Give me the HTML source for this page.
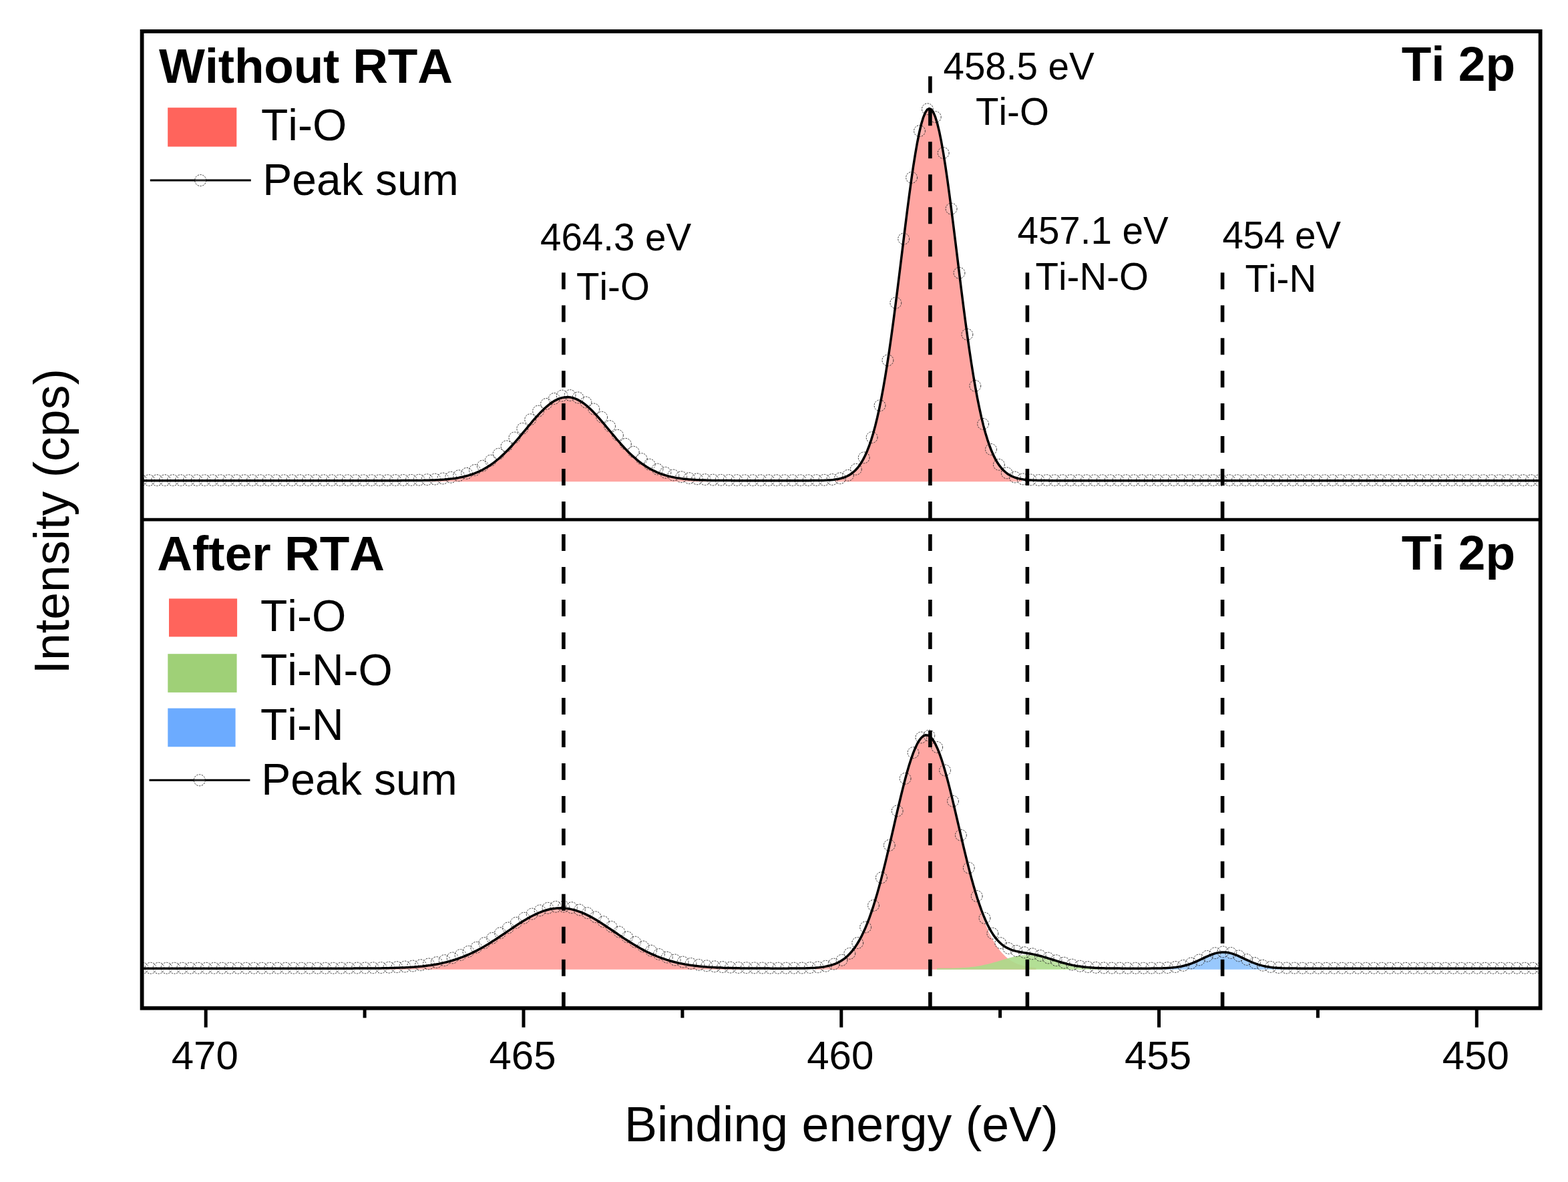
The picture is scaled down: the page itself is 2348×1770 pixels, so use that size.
<!DOCTYPE html>
<html lang="en">
<head>
<meta charset="utf-8">
<title>Ti 2p XPS spectra - Without RTA / After RTA</title>
<style>
html,body{margin:0;padding:0;background:#fff;}
body{width:2348px;height:1770px;overflow:hidden;}
svg{display:block;}
text{font-family:"Liberation Sans", Arial, Helvetica, sans-serif;fill:#000;font-kerning:none;font-variant-ligatures:none;}
.b{font-weight:700;font-size:73px;}
.ax{font-size:73.5px;}
.lg{font-size:66px;}
.an{font-size:56.5px;}
.tk{font-size:60px;text-anchor:middle;}
.pts circle{fill:#fff;fill-opacity:0.15;stroke:#222;stroke-width:0.9;stroke-dasharray:2.4 1.5;}
.dash{stroke:#000;stroke-width:5.6;fill:none;stroke-dasharray:25 23.98;}
</style>
</head>
<body>
<svg role="img" aria-label="Ti 2p XPS spectra" width="2348" height="1770" viewBox="0 0 2348 1770">
<rect x="0" y="0" width="2348" height="1770" fill="#fff"/>
<defs><clipPath id="plot"><rect x="212.6" y="46.9" width="2094" height="1462.8"/></clipPath></defs>
<g id="fills">
<path d="M636.1 721.2L636.1 719.3L639.1 719.2L642.1 719.2L645.1 719.1L648.1 719L651.1 718.9L654.1 718.7L657.1 718.6L660.1 718.4L663.1 718.2L666.1 717.9L669.1 717.7L672.1 717.4L675.1 717.1L678.1 716.7L681.1 716.3L684.1 715.8L687.1 715.3L690.1 714.7L693.1 714.1L696.1 713.4L699.1 712.6L702.1 711.7L705.1 710.8L708.1 709.8L711.1 708.7L714.1 707.5L717.1 706.2L720.1 704.7L723.1 703.2L726.1 701.6L729.1 699.8L732.1 697.9L735.1 695.9L738.1 693.7L741.1 691.5L744.1 689.1L747.1 686.6L750.1 683.9L753.1 681.2L756.1 678.3L759.1 675.3L762.1 672.2L765.1 668.9L768.1 665.6L771.1 662.2L774.1 658.8L777.1 655.3L780.1 651.7L783.1 648.1L786.1 644.5L789.1 640.8L792.1 637.2L795.1 633.6L798.1 630.1L801.1 626.7L804.1 623.3L807.1 620L810.1 616.9L813.1 613.9L816.1 611L819.1 608.4L822.1 605.9L825.1 603.7L828.1 601.6L831.1 599.8L834.1 598.3L837.1 597L840.1 596L843.1 595.3L846.1 594.9L849.1 594.7L852.1 594.8L855.1 595.2L858.1 595.9L861.1 596.9L864.1 598.1L867.1 599.6L870.1 601.4L873.1 603.4L876.1 605.6L879.1 608.1L882.1 610.7L885.1 613.5L888.1 616.5L891.1 619.6L894.1 622.9L897.1 626.2L900.1 629.7L903.1 633.2L906.1 636.8L909.1 640.4L912.1 644L915.1 647.7L918.1 651.3L921.1 654.8L924.1 658.4L927.1 661.8L930.1 665.2L933.1 668.6L936.1 671.8L939.1 674.9L942.1 677.9L945.1 680.8L948.1 683.6L951.1 686.3L954.1 688.8L957.1 691.2L960.1 693.5L963.1 695.6L966.1 697.7L969.1 699.6L972.1 701.3L975.1 703L978.1 704.6L981.1 706L984.1 707.3L987.1 708.5L990.1 709.7L993.1 710.7L996.1 711.6L999.1 712.5L1002.1 713.3L1005.1 714L1008.1 714.6L1011.1 715.2L1014.1 715.8L1017.1 716.2L1020.1 716.6L1023.1 717L1026.1 717.4L1029.1 717.7L1032.1 717.9L1035.1 718.2L1038.1 718.4L1041.1 718.5L1044.1 718.7L1047.1 718.8L1050.1 719L1053.1 719.1L1056.1 719.2L1059.1 719.2L1062.1 719.3L1062.1 721.2Z" fill="#ffa6a2"/>
<path d="M1250.9 721.2L1250.9 718L1253.9 717.5L1256.9 716.9L1259.9 716.2L1262.9 715.3L1265.9 714.2L1268.9 712.8L1271.9 711.2L1274.9 709.3L1277.9 706.9L1280.9 704.1L1283.9 700.9L1286.9 697L1289.9 692.5L1292.9 687.3L1295.9 681.3L1298.9 674.4L1301.9 666.6L1304.9 657.7L1307.9 647.7L1310.9 636.6L1313.9 624.2L1316.9 610.6L1319.9 595.6L1322.9 579.4L1325.9 561.9L1328.9 543.1L1331.9 523.1L1334.9 502L1337.9 479.9L1340.9 456.9L1343.9 433.3L1346.9 409.1L1349.9 384.7L1352.9 360.2L1355.9 336L1358.9 312.3L1361.9 289.4L1364.9 267.5L1367.9 247.1L1370.9 228.3L1373.9 211.5L1376.9 196.8L1379.9 184.5L1382.9 174.8L1385.9 167.9L1388.9 163.7L1391.9 162.5L1394.9 164.2L1397.9 168.8L1400.9 176.2L1403.9 186.3L1406.9 199L1409.9 214L1412.9 231.2L1415.9 250.3L1418.9 271L1421.9 293L1424.9 316L1427.9 339.8L1430.9 364.1L1433.9 388.6L1436.9 413L1439.9 437.1L1442.9 460.7L1445.9 483.5L1448.9 505.5L1451.9 526.4L1454.9 546.2L1457.9 564.8L1460.9 582.1L1463.9 598.1L1466.9 612.8L1469.9 626.3L1472.9 638.4L1475.9 649.4L1478.9 659.2L1481.9 667.9L1484.9 675.6L1487.9 682.3L1490.9 688.2L1493.9 693.3L1496.9 697.7L1499.9 701.4L1502.9 704.6L1505.9 707.3L1508.9 709.6L1511.9 711.5L1514.9 713.1L1517.9 714.4L1520.9 715.4L1523.9 716.3L1526.9 717L1529.9 717.6L1529.9 721.2Z" fill="#ffa6a2"/>
<path d="M565.8 1451.7L565.8 1449.9L568.8 1449.9L571.8 1449.8L574.8 1449.8L577.8 1449.7L580.8 1449.7L583.8 1449.6L586.8 1449.5L589.8 1449.5L592.8 1449.4L595.8 1449.3L598.8 1449.2L601.8 1449L604.8 1448.9L607.8 1448.8L610.8 1448.6L613.8 1448.4L616.8 1448.2L619.8 1448L622.8 1447.8L625.8 1447.5L628.8 1447.3L631.8 1447L634.8 1446.6L637.8 1446.3L640.8 1445.9L643.8 1445.5L646.8 1445L649.8 1444.6L652.8 1444.1L655.8 1443.5L658.8 1442.9L661.8 1442.3L664.8 1441.6L667.8 1440.9L670.8 1440.1L673.8 1439.3L676.8 1438.5L679.8 1437.6L682.8 1436.6L685.8 1435.6L688.8 1434.5L691.8 1433.4L694.8 1432.2L697.8 1431L700.8 1429.7L703.8 1428.4L706.8 1427L709.8 1425.5L712.8 1424L715.8 1422.4L718.8 1420.8L721.8 1419.2L724.8 1417.4L727.8 1415.7L730.8 1413.9L733.8 1412L736.8 1410.1L739.8 1408.2L742.8 1406.3L745.8 1404.3L748.8 1402.3L751.8 1400.3L754.8 1398.2L757.8 1396.2L760.8 1394.1L763.8 1392.1L766.8 1390.1L769.8 1388.1L772.8 1386.1L775.8 1384.1L778.8 1382.2L781.8 1380.3L784.8 1378.4L787.8 1376.6L790.8 1374.9L793.8 1373.3L796.8 1371.7L799.8 1370.2L802.8 1368.7L805.8 1367.4L808.8 1366.1L811.8 1365L814.8 1364L817.8 1363L820.8 1362.2L823.8 1361.5L826.8 1360.9L829.8 1360.5L832.8 1360.1L835.8 1359.9L838.8 1359.8L841.8 1359.8L844.8 1360L847.8 1360.3L850.8 1360.7L853.8 1361.2L856.8 1361.9L859.8 1362.6L862.8 1363.5L865.8 1364.5L868.8 1365.6L871.8 1366.8L874.8 1368.1L877.8 1369.5L880.8 1370.9L883.8 1372.5L886.8 1374.1L889.8 1375.8L892.8 1377.6L895.8 1379.4L898.8 1381.3L901.8 1383.2L904.8 1385.1L907.8 1387.1L910.8 1389.1L913.8 1391.2L916.8 1393.2L919.8 1395.2L922.8 1397.3L925.8 1399.3L928.8 1401.3L931.8 1403.4L934.8 1405.3L937.8 1407.3L940.8 1409.2L943.8 1411.1L946.8 1413L949.8 1414.8L952.8 1416.6L955.8 1418.4L958.8 1420.1L961.8 1421.7L964.8 1423.3L967.8 1424.8L970.8 1426.3L973.8 1427.7L976.8 1429.1L979.8 1430.4L982.8 1431.7L985.8 1432.9L988.8 1434L991.8 1435.1L994.8 1436.1L997.8 1437.1L1000.8 1438.1L1003.8 1438.9L1006.8 1439.8L1009.8 1440.6L1012.8 1441.3L1015.8 1442L1018.8 1442.6L1021.8 1443.2L1024.8 1443.8L1027.8 1444.3L1030.8 1444.8L1033.8 1445.3L1036.8 1445.7L1039.8 1446.1L1042.8 1446.5L1045.8 1446.8L1048.8 1447.1L1051.8 1447.4L1054.8 1447.7L1057.8 1447.9L1060.8 1448.1L1063.8 1448.3L1066.8 1448.5L1069.8 1448.7L1072.8 1448.8L1075.8 1449L1078.8 1449.1L1081.8 1449.2L1084.8 1449.3L1087.8 1449.4L1090.8 1449.5L1093.8 1449.6L1096.8 1449.7L1099.8 1449.7L1102.8 1449.8L1105.8 1449.8L1108.8 1449.9L1111.8 1449.9L1111.8 1451.7Z" fill="#ffa6a2"/>
<path d="M1221.4 1451.7L1221.4 1449.1L1224.4 1448.9L1227.4 1448.6L1230.4 1448.2L1233.4 1447.8L1236.4 1447.3L1239.4 1446.7L1242.4 1445.9L1245.4 1445.1L1248.4 1444.1L1251.4 1442.9L1254.4 1441.6L1257.4 1440.1L1260.4 1438.3L1263.4 1436.2L1266.4 1433.9L1269.4 1431.2L1272.4 1428.3L1275.4 1424.9L1278.4 1421.1L1281.4 1416.9L1284.4 1412.2L1287.4 1407L1290.4 1401.3L1293.4 1395L1296.4 1388.2L1299.4 1380.8L1302.4 1372.8L1305.4 1364.3L1308.4 1355.1L1311.4 1345.4L1314.4 1335.1L1317.4 1324.3L1320.4 1312.9L1323.4 1301.2L1326.4 1289L1329.4 1276.5L1332.4 1263.7L1335.4 1250.7L1338.4 1237.7L1341.4 1224.7L1344.4 1211.7L1347.4 1199L1350.4 1186.6L1353.4 1174.6L1356.4 1163.2L1359.4 1152.5L1362.4 1142.5L1365.4 1133.4L1368.4 1125.2L1371.4 1118.1L1374.4 1112.2L1377.4 1107.4L1380.4 1103.9L1383.4 1101.6L1386.4 1100.7L1389.4 1101.1L1392.4 1102.9L1395.4 1105.9L1398.4 1110.2L1401.4 1115.7L1404.4 1122.4L1407.4 1130.1L1410.4 1138.9L1413.4 1148.5L1416.4 1159L1419.4 1170.2L1422.4 1181.9L1425.4 1194.2L1428.4 1206.8L1431.4 1219.6L1434.4 1232.6L1437.4 1245.7L1440.4 1258.7L1443.4 1271.6L1446.4 1284.2L1449.4 1296.5L1452.4 1308.4L1455.4 1319.9L1458.4 1331L1461.4 1341.5L1464.4 1351.4L1467.4 1360.8L1470.4 1369.6L1473.4 1377.8L1476.4 1385.4L1479.4 1392.5L1482.4 1398.9L1485.4 1404.9L1488.4 1410.2L1491.4 1415.1L1494.4 1419.5L1497.4 1423.5L1500.4 1427L1503.4 1430.1L1506.4 1432.9L1509.4 1435.4L1512.4 1437.5L1515.4 1439.4L1518.4 1441L1521.4 1442.5L1524.4 1443.7L1527.4 1444.7L1530.4 1445.6L1533.4 1446.4L1536.4 1447L1539.4 1447.6L1542.4 1448.1L1545.4 1448.4L1548.4 1448.8L1551.4 1449L1551.4 1451.7Z" fill="#ffa6a2"/>
<path d="M1403 1451.7L1403 1450.1L1406 1450.1L1409 1450.1L1412 1450.1L1415 1450L1418 1450L1421 1449.9L1424 1449.9L1427 1449.8L1430 1449.7L1433 1449.6L1436 1449.5L1439 1449.3L1442 1449.1L1445 1448.9L1448 1448.7L1451 1448.4L1454 1448.1L1457 1447.8L1460 1447.4L1463 1446.9L1466 1446.4L1469 1445.9L1472 1445.3L1475 1444.6L1478 1443.9L1481 1443.2L1484 1442.4L1487 1441.6L1490 1440.8L1493 1439.9L1496 1439L1499 1438.1L1502 1437.2L1505 1436.3L1508 1435.4L1511 1434.5L1514 1433.7L1517 1433L1520 1432.3L1523 1431.7L1526 1431.2L1529 1430.8L1532 1430.5L1535 1430.3L1538 1430.2L1541 1430.2L1544 1430.4L1547 1430.6L1550 1430.9L1553 1431.4L1556 1431.9L1559 1432.6L1562 1433.2L1565 1434L1568 1434.8L1571 1435.7L1574 1436.6L1577 1437.5L1580 1438.4L1583 1439.3L1586 1440.2L1589 1441L1592 1441.9L1595 1442.7L1598 1443.5L1601 1444.2L1604 1444.9L1607 1445.5L1610 1446.1L1613 1446.6L1616 1447.1L1619 1447.5L1622 1447.9L1625 1448.2L1628 1448.5L1631 1448.8L1634 1449L1637 1449.2L1640 1449.4L1643 1449.5L1646 1449.6L1649 1449.7L1652 1449.8L1655 1449.9L1658 1450L1661 1450L1664 1450L1667 1450.1L1670 1450.1L1673 1450.1L1673 1451.7Z" fill="#abdb8a" fill-opacity="0.9"/>
<path d="M1726.4 1451.7L1726.4 1450.1L1729.4 1450.1L1732.4 1450.1L1735.4 1450L1738.4 1449.9L1741.4 1449.9L1744.4 1449.7L1747.4 1449.6L1750.4 1449.4L1753.4 1449.2L1756.4 1448.9L1759.4 1448.6L1762.4 1448.2L1765.4 1447.7L1768.4 1447.2L1771.4 1446.6L1774.4 1445.8L1777.4 1445L1780.4 1444.1L1783.4 1443L1786.4 1441.9L1789.4 1440.7L1792.4 1439.4L1795.4 1438L1798.4 1436.6L1801.4 1435.2L1804.4 1433.8L1807.4 1432.4L1810.4 1431.1L1813.4 1429.8L1816.4 1428.7L1819.4 1427.8L1822.4 1427L1825.4 1426.4L1828.4 1426L1831.4 1425.9L1834.4 1426L1837.4 1426.3L1840.4 1426.8L1843.4 1427.5L1846.4 1428.5L1849.4 1429.5L1852.4 1430.7L1855.4 1432L1858.4 1433.4L1861.4 1434.8L1864.4 1436.2L1867.4 1437.6L1870.4 1439L1873.4 1440.3L1876.4 1441.6L1879.4 1442.7L1882.4 1443.8L1885.4 1444.7L1888.4 1445.6L1891.4 1446.4L1894.4 1447L1897.4 1447.6L1900.4 1448.1L1903.4 1448.5L1906.4 1448.9L1909.4 1449.1L1912.4 1449.4L1915.4 1449.6L1918.4 1449.7L1921.4 1449.8L1924.4 1449.9L1927.4 1450L1930.4 1450L1933.4 1450.1L1936.4 1450.1L1936.4 1451.7Z" fill="#98c8fd"/>
</g>
<g class="pts" clip-path="url(#plot)"><circle cx="211.3" cy="719.2" r="8.4"/><circle cx="223.2" cy="719.2" r="8.4"/><circle cx="235.1" cy="719.2" r="8.4"/><circle cx="247" cy="719.2" r="8.4"/><circle cx="258.9" cy="719.2" r="8.4"/><circle cx="270.8" cy="719.2" r="8.4"/><circle cx="282.7" cy="719.2" r="8.4"/><circle cx="294.6" cy="719.2" r="8.4"/><circle cx="306.5" cy="719.2" r="8.4"/><circle cx="318.4" cy="719.2" r="8.4"/><circle cx="330.3" cy="719.2" r="8.4"/><circle cx="342.2" cy="719.2" r="8.4"/><circle cx="354.1" cy="719.2" r="8.4"/><circle cx="366" cy="719.2" r="8.4"/><circle cx="377.9" cy="719.2" r="8.4"/><circle cx="389.8" cy="719.2" r="8.4"/><circle cx="401.7" cy="719.2" r="8.4"/><circle cx="413.5" cy="719.2" r="8.4"/><circle cx="425.4" cy="719.2" r="8.4"/><circle cx="437.3" cy="719.2" r="8.4"/><circle cx="449.2" cy="719.2" r="8.4"/><circle cx="461.1" cy="719.2" r="8.4"/><circle cx="473" cy="719.2" r="8.4"/><circle cx="484.9" cy="719.2" r="8.4"/><circle cx="496.8" cy="719.2" r="8.4"/><circle cx="508.7" cy="719.2" r="8.4"/><circle cx="520.6" cy="719.2" r="8.4"/><circle cx="532.5" cy="719.2" r="8.4"/><circle cx="544.4" cy="719.2" r="8.4"/><circle cx="556.3" cy="719.2" r="8.4"/><circle cx="568.2" cy="719.2" r="8.4"/><circle cx="580.1" cy="719.2" r="8.4"/><circle cx="592" cy="719.1" r="8.4"/><circle cx="603.9" cy="719" r="8.4"/><circle cx="615.8" cy="718.9" r="8.4"/><circle cx="627.6" cy="718.7" r="8.4"/><circle cx="639.5" cy="718.2" r="8.4"/><circle cx="651.4" cy="717.6" r="8.4"/><circle cx="663.3" cy="716.5" r="8.4"/><circle cx="675.2" cy="714.8" r="8.4"/><circle cx="687.1" cy="712.3" r="8.4"/><circle cx="699" cy="708.8" r="8.4"/><circle cx="710.9" cy="704" r="8.4"/><circle cx="722.8" cy="697.6" r="8.4"/><circle cx="734.7" cy="689.6" r="8.4"/><circle cx="746.6" cy="679.7" r="8.4"/><circle cx="758.5" cy="668.2" r="8.4"/><circle cx="770.4" cy="655.4" r="8.4"/><circle cx="782.3" cy="641.8" r="8.4"/><circle cx="794.2" cy="628.2" r="8.4"/><circle cx="806.1" cy="615.6" r="8.4"/><circle cx="818" cy="604.9" r="8.4"/><circle cx="829.9" cy="596.9" r="8.4"/><circle cx="841.7" cy="592.5" r="8.4"/><circle cx="853.6" cy="592" r="8.4"/><circle cx="865.5" cy="595.4" r="8.4"/><circle cx="877.4" cy="602.4" r="8.4"/><circle cx="889.3" cy="612.5" r="8.4"/><circle cx="901.2" cy="624.7" r="8.4"/><circle cx="913.1" cy="638.1" r="8.4"/><circle cx="925" cy="651.7" r="8.4"/><circle cx="936.9" cy="664.8" r="8.4"/><circle cx="948.8" cy="676.7" r="8.4"/><circle cx="960.7" cy="687.1" r="8.4"/><circle cx="972.6" cy="695.6" r="8.4"/><circle cx="984.5" cy="702.5" r="8.4"/><circle cx="996.4" cy="707.7" r="8.4"/><circle cx="1008.3" cy="711.5" r="8.4"/><circle cx="1020.2" cy="714.2" r="8.4"/><circle cx="1032.1" cy="716.1" r="8.4"/><circle cx="1044" cy="717.3" r="8.4"/><circle cx="1055.8" cy="718.1" r="8.4"/><circle cx="1067.7" cy="718.6" r="8.4"/><circle cx="1079.6" cy="718.8" r="8.4"/><circle cx="1091.5" cy="719" r="8.4"/><circle cx="1103.4" cy="719.1" r="8.4"/><circle cx="1115.3" cy="719.2" r="8.4"/><circle cx="1127.2" cy="719.2" r="8.4"/><circle cx="1139.1" cy="719.2" r="8.4"/><circle cx="1151" cy="719.2" r="8.4"/><circle cx="1162.9" cy="719.2" r="8.4"/><circle cx="1174.8" cy="719.2" r="8.4"/><circle cx="1186.7" cy="719.2" r="8.4"/><circle cx="1198.6" cy="719.2" r="8.4"/><circle cx="1210.5" cy="719.2" r="8.4"/><circle cx="1222.4" cy="719.1" r="8.4"/><circle cx="1234.3" cy="718.8" r="8.4"/><circle cx="1246.2" cy="718" r="8.4"/><circle cx="1258" cy="716.2" r="8.4"/><circle cx="1269.9" cy="711.8" r="8.4"/><circle cx="1281.8" cy="702.7" r="8.4"/><circle cx="1293.7" cy="685.3" r="8.4"/><circle cx="1305.6" cy="655" r="8.4"/><circle cx="1317.5" cy="607.3" r="8.4"/><circle cx="1329.4" cy="539.5" r="8.4"/><circle cx="1341.3" cy="453.5" r="8.4"/><circle cx="1353.2" cy="357.6" r="8.4"/><circle cx="1365.1" cy="265.9" r="8.4"/><circle cx="1377" cy="196.1" r="8.4"/><circle cx="1388.9" cy="163.3" r="8.4"/><circle cx="1400.8" cy="175.2" r="8.4"/><circle cx="1412.7" cy="229.1" r="8.4"/><circle cx="1424.6" cy="312.6" r="8.4"/><circle cx="1436.5" cy="408.7" r="8.4"/><circle cx="1448.4" cy="500.8" r="8.4"/><circle cx="1460.3" cy="577.8" r="8.4"/><circle cx="1472.1" cy="634.9" r="8.4"/><circle cx="1484" cy="672.9" r="8.4"/><circle cx="1495.9" cy="695.8" r="8.4"/><circle cx="1507.8" cy="708.3" r="8.4"/><circle cx="1519.7" cy="714.5" r="8.4"/><circle cx="1531.6" cy="717.4" r="8.4"/><circle cx="1543.5" cy="718.5" r="8.4"/><circle cx="1555.4" cy="719" r="8.4"/><circle cx="1567.3" cy="719.1" r="8.4"/><circle cx="1579.2" cy="719.2" r="8.4"/><circle cx="1591.1" cy="719.2" r="8.4"/><circle cx="1603" cy="719.2" r="8.4"/><circle cx="1614.9" cy="719.2" r="8.4"/><circle cx="1626.8" cy="719.2" r="8.4"/><circle cx="1638.7" cy="719.2" r="8.4"/><circle cx="1650.6" cy="719.2" r="8.4"/><circle cx="1662.5" cy="719.2" r="8.4"/><circle cx="1674.4" cy="719.2" r="8.4"/><circle cx="1686.2" cy="719.2" r="8.4"/><circle cx="1698.1" cy="719.2" r="8.4"/><circle cx="1710" cy="719.2" r="8.4"/><circle cx="1721.9" cy="719.2" r="8.4"/><circle cx="1733.8" cy="719.2" r="8.4"/><circle cx="1745.7" cy="719.2" r="8.4"/><circle cx="1757.6" cy="719.2" r="8.4"/><circle cx="1769.5" cy="719.2" r="8.4"/><circle cx="1781.4" cy="719.2" r="8.4"/><circle cx="1793.3" cy="719.2" r="8.4"/><circle cx="1805.2" cy="719.2" r="8.4"/><circle cx="1817.1" cy="719.2" r="8.4"/><circle cx="1829" cy="719.2" r="8.4"/><circle cx="1840.9" cy="719.2" r="8.4"/><circle cx="1852.8" cy="719.2" r="8.4"/><circle cx="1864.7" cy="719.2" r="8.4"/><circle cx="1876.6" cy="719.2" r="8.4"/><circle cx="1888.5" cy="719.2" r="8.4"/><circle cx="1900.3" cy="719.2" r="8.4"/><circle cx="1912.2" cy="719.2" r="8.4"/><circle cx="1924.1" cy="719.2" r="8.4"/><circle cx="1936" cy="719.2" r="8.4"/><circle cx="1947.9" cy="719.2" r="8.4"/><circle cx="1959.8" cy="719.2" r="8.4"/><circle cx="1971.7" cy="719.2" r="8.4"/><circle cx="1983.6" cy="719.2" r="8.4"/><circle cx="1995.5" cy="719.2" r="8.4"/><circle cx="2007.4" cy="719.2" r="8.4"/><circle cx="2019.3" cy="719.2" r="8.4"/><circle cx="2031.2" cy="719.2" r="8.4"/><circle cx="2043.1" cy="719.2" r="8.4"/><circle cx="2055" cy="719.2" r="8.4"/><circle cx="2066.9" cy="719.2" r="8.4"/><circle cx="2078.8" cy="719.2" r="8.4"/><circle cx="2090.7" cy="719.2" r="8.4"/><circle cx="2102.6" cy="719.2" r="8.4"/><circle cx="2114.4" cy="719.2" r="8.4"/><circle cx="2126.3" cy="719.2" r="8.4"/><circle cx="2138.2" cy="719.2" r="8.4"/><circle cx="2150.1" cy="719.2" r="8.4"/><circle cx="2162" cy="719.2" r="8.4"/><circle cx="2173.9" cy="719.2" r="8.4"/><circle cx="2185.8" cy="719.2" r="8.4"/><circle cx="2197.7" cy="719.2" r="8.4"/><circle cx="2209.6" cy="719.2" r="8.4"/><circle cx="2221.5" cy="719.2" r="8.4"/><circle cx="2233.4" cy="719.2" r="8.4"/><circle cx="2245.3" cy="719.2" r="8.4"/><circle cx="2257.2" cy="719.2" r="8.4"/><circle cx="2269.1" cy="719.2" r="8.4"/><circle cx="2281" cy="719.2" r="8.4"/><circle cx="2292.9" cy="719.2" r="8.4"/><circle cx="2304.8" cy="719.2" r="8.4"/></g>
<g class="pts" clip-path="url(#plot)"><circle cx="213.7" cy="1449.7" r="8.4"/><circle cx="225.6" cy="1449.7" r="8.4"/><circle cx="237.5" cy="1449.7" r="8.4"/><circle cx="249.4" cy="1449.7" r="8.4"/><circle cx="261.3" cy="1449.7" r="8.4"/><circle cx="273.2" cy="1449.7" r="8.4"/><circle cx="285.1" cy="1449.7" r="8.4"/><circle cx="297" cy="1449.7" r="8.4"/><circle cx="308.9" cy="1449.7" r="8.4"/><circle cx="320.8" cy="1449.7" r="8.4"/><circle cx="332.7" cy="1449.7" r="8.4"/><circle cx="344.6" cy="1449.7" r="8.4"/><circle cx="356.5" cy="1449.7" r="8.4"/><circle cx="368.4" cy="1449.7" r="8.4"/><circle cx="380.3" cy="1449.7" r="8.4"/><circle cx="392.2" cy="1449.7" r="8.4"/><circle cx="404.1" cy="1449.7" r="8.4"/><circle cx="415.9" cy="1449.7" r="8.4"/><circle cx="427.8" cy="1449.7" r="8.4"/><circle cx="439.7" cy="1449.7" r="8.4"/><circle cx="451.6" cy="1449.7" r="8.4"/><circle cx="463.5" cy="1449.7" r="8.4"/><circle cx="475.4" cy="1449.7" r="8.4"/><circle cx="487.3" cy="1449.7" r="8.4"/><circle cx="499.2" cy="1449.7" r="8.4"/><circle cx="511.1" cy="1449.6" r="8.4"/><circle cx="523" cy="1449.6" r="8.4"/><circle cx="534.9" cy="1449.5" r="8.4"/><circle cx="546.8" cy="1449.4" r="8.4"/><circle cx="558.7" cy="1449.3" r="8.4"/><circle cx="570.6" cy="1449.1" r="8.4"/><circle cx="582.5" cy="1448.7" r="8.4"/><circle cx="594.4" cy="1448.2" r="8.4"/><circle cx="606.3" cy="1447.5" r="8.4"/><circle cx="618.2" cy="1446.5" r="8.4"/><circle cx="630" cy="1445.2" r="8.4"/><circle cx="641.9" cy="1443.4" r="8.4"/><circle cx="653.8" cy="1441.1" r="8.4"/><circle cx="665.7" cy="1438.1" r="8.4"/><circle cx="677.6" cy="1434.4" r="8.4"/><circle cx="689.5" cy="1430" r="8.4"/><circle cx="701.4" cy="1424.8" r="8.4"/><circle cx="713.3" cy="1418.8" r="8.4"/><circle cx="725.2" cy="1412.1" r="8.4"/><circle cx="737.1" cy="1404.8" r="8.4"/><circle cx="749" cy="1397.2" r="8.4"/><circle cx="760.9" cy="1389.4" r="8.4"/><circle cx="772.8" cy="1381.8" r="8.4"/><circle cx="784.7" cy="1374.7" r="8.4"/><circle cx="796.6" cy="1368.5" r="8.4"/><circle cx="808.5" cy="1363.4" r="8.4"/><circle cx="820.4" cy="1359.8" r="8.4"/><circle cx="832.3" cy="1357.8" r="8.4"/><circle cx="844.1" cy="1357.6" r="8.4"/><circle cx="856" cy="1359.2" r="8.4"/><circle cx="867.9" cy="1362.5" r="8.4"/><circle cx="879.8" cy="1367.2" r="8.4"/><circle cx="891.7" cy="1373.2" r="8.4"/><circle cx="903.6" cy="1380.2" r="8.4"/><circle cx="915.5" cy="1387.7" r="8.4"/><circle cx="927.4" cy="1395.5" r="8.4"/><circle cx="939.3" cy="1403.2" r="8.4"/><circle cx="951.2" cy="1410.6" r="8.4"/><circle cx="963.1" cy="1417.4" r="8.4"/><circle cx="975" cy="1423.6" r="8.4"/><circle cx="986.9" cy="1429" r="8.4"/><circle cx="998.8" cy="1433.5" r="8.4"/><circle cx="1010.7" cy="1437.4" r="8.4"/><circle cx="1022.6" cy="1440.5" r="8.4"/><circle cx="1034.5" cy="1442.9" r="8.4"/><circle cx="1046.4" cy="1444.8" r="8.4"/><circle cx="1058.2" cy="1446.3" r="8.4"/><circle cx="1070.1" cy="1447.3" r="8.4"/><circle cx="1082" cy="1448.1" r="8.4"/><circle cx="1093.9" cy="1448.6" r="8.4"/><circle cx="1105.8" cy="1449" r="8.4"/><circle cx="1117.7" cy="1449.2" r="8.4"/><circle cx="1129.6" cy="1449.4" r="8.4"/><circle cx="1141.5" cy="1449.5" r="8.4"/><circle cx="1153.4" cy="1449.6" r="8.4"/><circle cx="1165.3" cy="1449.6" r="8.4"/><circle cx="1177.2" cy="1449.6" r="8.4"/><circle cx="1189.1" cy="1449.6" r="8.4"/><circle cx="1201" cy="1449.5" r="8.4"/><circle cx="1212.9" cy="1449.1" r="8.4"/><circle cx="1224.8" cy="1448.3" r="8.4"/><circle cx="1236.7" cy="1446.7" r="8.4"/><circle cx="1248.6" cy="1443.6" r="8.4"/><circle cx="1260.5" cy="1437.8" r="8.4"/><circle cx="1272.3" cy="1427.8" r="8.4"/><circle cx="1284.2" cy="1412" r="8.4"/><circle cx="1296.1" cy="1388.4" r="8.4"/><circle cx="1308" cy="1355.9" r="8.4"/><circle cx="1319.9" cy="1314.3" r="8.4"/><circle cx="1331.8" cy="1265.8" r="8.4"/><circle cx="1343.7" cy="1214.3" r="8.4"/><circle cx="1355.6" cy="1165.8" r="8.4"/><circle cx="1367.5" cy="1127.1" r="8.4"/><circle cx="1379.4" cy="1104.4" r="8.4"/><circle cx="1391.3" cy="1101.5" r="8.4"/><circle cx="1403.2" cy="1118.9" r="8.4"/><circle cx="1415.1" cy="1153.5" r="8.4"/><circle cx="1427" cy="1199.7" r="8.4"/><circle cx="1438.9" cy="1250.6" r="8.4"/><circle cx="1450.8" cy="1299.6" r="8.4"/><circle cx="1462.7" cy="1341.9" r="8.4"/><circle cx="1474.5" cy="1374.8" r="8.4"/><circle cx="1486.4" cy="1397.8" r="8.4"/><circle cx="1498.3" cy="1412.2" r="8.4"/><circle cx="1510.2" cy="1420" r="8.4"/><circle cx="1522.1" cy="1424" r="8.4"/><circle cx="1534" cy="1426.2" r="8.4"/><circle cx="1545.9" cy="1428.3" r="8.4"/><circle cx="1557.8" cy="1431" r="8.4"/><circle cx="1569.7" cy="1434.5" r="8.4"/><circle cx="1581.6" cy="1438.2" r="8.4"/><circle cx="1593.5" cy="1441.7" r="8.4"/><circle cx="1605.4" cy="1444.6" r="8.4"/><circle cx="1617.3" cy="1446.7" r="8.4"/><circle cx="1629.2" cy="1448.1" r="8.4"/><circle cx="1641.1" cy="1448.9" r="8.4"/><circle cx="1653" cy="1449.4" r="8.4"/><circle cx="1664.9" cy="1449.6" r="8.4"/><circle cx="1676.8" cy="1449.6" r="8.4"/><circle cx="1688.6" cy="1449.7" r="8.4"/><circle cx="1700.5" cy="1449.7" r="8.4"/><circle cx="1712.4" cy="1449.7" r="8.4"/><circle cx="1724.3" cy="1449.6" r="8.4"/><circle cx="1736.2" cy="1449.5" r="8.4"/><circle cx="1748.1" cy="1449.1" r="8.4"/><circle cx="1760" cy="1448" r="8.4"/><circle cx="1771.9" cy="1445.9" r="8.4"/><circle cx="1783.8" cy="1442.4" r="8.4"/><circle cx="1795.7" cy="1437.4" r="8.4"/><circle cx="1807.6" cy="1431.8" r="8.4"/><circle cx="1819.5" cy="1427.2" r="8.4"/><circle cx="1831.4" cy="1425.4" r="8.4"/><circle cx="1843.3" cy="1427" r="8.4"/><circle cx="1855.2" cy="1431.4" r="8.4"/><circle cx="1867.1" cy="1437" r="8.4"/><circle cx="1879" cy="1442.1" r="8.4"/><circle cx="1890.9" cy="1445.7" r="8.4"/><circle cx="1902.7" cy="1447.9" r="8.4"/><circle cx="1914.6" cy="1449" r="8.4"/><circle cx="1926.5" cy="1449.5" r="8.4"/><circle cx="1938.4" cy="1449.6" r="8.4"/><circle cx="1950.3" cy="1449.7" r="8.4"/><circle cx="1962.2" cy="1449.7" r="8.4"/><circle cx="1974.1" cy="1449.7" r="8.4"/><circle cx="1986" cy="1449.7" r="8.4"/><circle cx="1997.9" cy="1449.7" r="8.4"/><circle cx="2009.8" cy="1449.7" r="8.4"/><circle cx="2021.7" cy="1449.7" r="8.4"/><circle cx="2033.6" cy="1449.7" r="8.4"/><circle cx="2045.5" cy="1449.7" r="8.4"/><circle cx="2057.4" cy="1449.7" r="8.4"/><circle cx="2069.3" cy="1449.7" r="8.4"/><circle cx="2081.2" cy="1449.7" r="8.4"/><circle cx="2093.1" cy="1449.7" r="8.4"/><circle cx="2105" cy="1449.7" r="8.4"/><circle cx="2116.8" cy="1449.7" r="8.4"/><circle cx="2128.7" cy="1449.7" r="8.4"/><circle cx="2140.6" cy="1449.7" r="8.4"/><circle cx="2152.5" cy="1449.7" r="8.4"/><circle cx="2164.4" cy="1449.7" r="8.4"/><circle cx="2176.3" cy="1449.7" r="8.4"/><circle cx="2188.2" cy="1449.7" r="8.4"/><circle cx="2200.1" cy="1449.7" r="8.4"/><circle cx="2212" cy="1449.7" r="8.4"/><circle cx="2223.9" cy="1449.7" r="8.4"/><circle cx="2235.8" cy="1449.7" r="8.4"/><circle cx="2247.7" cy="1449.7" r="8.4"/><circle cx="2259.6" cy="1449.7" r="8.4"/><circle cx="2271.5" cy="1449.7" r="8.4"/><circle cx="2283.4" cy="1449.7" r="8.4"/><circle cx="2295.3" cy="1449.7" r="8.4"/><circle cx="2307.2" cy="1449.7" r="8.4"/></g>
<path d="M212.6 719.7L215.6 719.7L218.6 719.7L221.6 719.7L224.6 719.7L227.6 719.7L230.6 719.7L233.6 719.7L236.6 719.7L239.6 719.7L242.6 719.7L245.6 719.7L248.6 719.7L251.6 719.7L254.6 719.7L257.6 719.7L260.6 719.7L263.6 719.7L266.6 719.7L269.6 719.7L272.6 719.7L275.6 719.7L278.6 719.7L281.6 719.7L284.6 719.7L287.6 719.7L290.6 719.7L293.6 719.7L296.6 719.7L299.6 719.7L302.6 719.7L305.6 719.7L308.6 719.7L311.6 719.7L314.6 719.7L317.6 719.7L320.6 719.7L323.6 719.7L326.6 719.7L329.6 719.7L332.6 719.7L335.6 719.7L338.6 719.7L341.6 719.7L344.6 719.7L347.6 719.7L350.6 719.7L353.6 719.7L356.6 719.7L359.6 719.7L362.6 719.7L365.6 719.7L368.6 719.7L371.6 719.7L374.6 719.7L377.6 719.7L380.6 719.7L383.6 719.7L386.6 719.7L389.6 719.7L392.6 719.7L395.6 719.7L398.6 719.7L401.6 719.7L404.6 719.7L407.6 719.7L410.6 719.7L413.6 719.7L416.6 719.7L419.6 719.7L422.6 719.7L425.6 719.7L428.6 719.7L431.6 719.7L434.6 719.7L437.6 719.7L440.6 719.7L443.6 719.7L446.6 719.7L449.6 719.7L452.6 719.7L455.6 719.7L458.6 719.7L461.6 719.7L464.6 719.7L467.6 719.7L470.6 719.7L473.6 719.7L476.6 719.7L479.6 719.7L482.6 719.7L485.6 719.7L488.6 719.7L491.6 719.7L494.6 719.7L497.6 719.7L500.6 719.7L503.6 719.7L506.6 719.7L509.6 719.7L512.6 719.7L515.6 719.7L518.6 719.7L521.6 719.7L524.6 719.7L527.6 719.7L530.6 719.7L533.6 719.7L536.6 719.7L539.6 719.7L542.6 719.7L545.6 719.7L548.6 719.7L551.6 719.7L554.6 719.7L557.6 719.7L560.6 719.7L563.6 719.7L566.6 719.7L569.6 719.7L572.6 719.7L575.6 719.7L578.6 719.7L581.6 719.7L584.6 719.7L587.6 719.7L590.6 719.7L593.6 719.7L596.6 719.7L599.6 719.7L602.6 719.6L605.6 719.6L608.6 719.6L611.6 719.6L614.6 719.6L617.6 719.6L620.6 719.5L623.6 719.5L626.6 719.5L629.6 719.4L632.6 719.4L635.6 719.3L638.6 719.3L641.6 719.2L644.6 719.1L647.6 719L650.6 718.9L653.6 718.7L656.6 718.6L659.6 718.4L662.6 718.2L665.6 718L668.6 717.7L671.6 717.4L674.6 717.1L677.6 716.8L680.6 716.4L683.6 715.9L686.6 715.4L689.6 714.8L692.6 714.2L695.6 713.5L698.6 712.7L701.6 711.9L704.6 711L707.6 710L710.6 708.9L713.6 707.7L716.6 706.4L719.6 705L722.6 703.5L725.6 701.8L728.6 700.1L731.6 698.2L734.6 696.2L737.6 694.1L740.6 691.9L743.6 689.5L746.6 687L749.6 684.4L752.6 681.6L755.6 678.8L758.6 675.8L761.6 672.7L764.6 669.5L767.6 666.2L770.6 662.8L773.6 659.4L776.6 655.9L779.6 652.3L782.6 648.7L785.6 645.1L788.6 641.5L791.6 637.9L794.6 634.3L797.6 630.7L800.6 627.2L803.6 623.9L806.6 620.6L809.6 617.4L812.6 614.4L815.6 611.5L818.6 608.8L821.6 606.3L824.6 604L827.6 602L830.6 600.1L833.6 598.6L836.6 597.2L839.6 596.2L842.6 595.4L845.6 594.9L848.6 594.7L851.6 594.8L854.6 595.1L857.6 595.8L860.6 596.7L863.6 597.9L866.6 599.4L869.6 601.1L872.6 603L875.6 605.2L878.6 607.6L881.6 610.2L884.6 613L887.6 616L890.6 619.1L893.6 622.3L896.6 625.7L899.6 629.1L902.6 632.6L905.6 636.2L908.6 639.8L911.6 643.4L914.6 647L917.6 650.6L920.6 654.2L923.6 657.8L926.6 661.2L929.6 664.7L932.6 668L935.6 671.2L938.6 674.4L941.6 677.4L944.6 680.3L947.6 683.1L950.6 685.8L953.6 688.4L956.6 690.8L959.6 693.1L962.6 695.3L965.6 697.3L968.6 699.2L971.6 701L974.6 702.7L977.6 704.3L980.6 705.7L983.6 707.1L986.6 708.3L989.6 709.5L992.6 710.5L995.6 711.5L998.6 712.4L1001.6 713.2L1004.6 713.9L1007.6 714.5L1010.6 715.1L1013.6 715.7L1016.6 716.1L1019.6 716.6L1022.6 717L1025.6 717.3L1028.6 717.6L1031.6 717.9L1034.6 718.1L1037.6 718.3L1040.6 718.5L1043.6 718.7L1046.6 718.8L1049.6 718.9L1052.6 719L1055.6 719.1L1058.6 719.2L1061.6 719.3L1064.6 719.4L1067.6 719.4L1070.6 719.5L1073.6 719.5L1076.6 719.5L1079.6 719.6L1082.6 719.6L1085.6 719.6L1088.6 719.6L1091.6 719.6L1094.6 719.6L1097.6 719.7L1100.6 719.7L1103.6 719.7L1106.6 719.7L1109.6 719.7L1112.6 719.7L1115.6 719.7L1118.6 719.7L1121.6 719.7L1124.6 719.7L1127.6 719.7L1130.6 719.7L1133.6 719.7L1136.6 719.7L1139.6 719.7L1142.6 719.7L1145.6 719.7L1148.6 719.7L1151.6 719.7L1154.6 719.7L1157.6 719.7L1160.6 719.7L1163.6 719.7L1166.6 719.7L1169.6 719.7L1172.6 719.7L1175.6 719.7L1178.6 719.7L1181.6 719.7L1184.6 719.7L1187.6 719.7L1190.6 719.7L1193.6 719.7L1196.6 719.7L1199.6 719.7L1202.6 719.7L1205.6 719.7L1208.6 719.7L1211.6 719.7L1214.6 719.6L1217.6 719.6L1220.6 719.6L1223.6 719.6L1226.6 719.5L1229.6 719.4L1232.6 719.4L1235.6 719.2L1238.6 719.1L1241.6 718.9L1244.6 718.7L1247.6 718.4L1250.6 718L1253.6 717.6L1256.6 717L1259.6 716.3L1262.6 715.4L1265.6 714.3L1268.6 713L1271.6 711.4L1274.6 709.5L1277.6 707.2L1280.6 704.5L1283.6 701.3L1286.6 697.5L1289.6 693.1L1292.6 687.9L1295.6 682L1298.6 675.2L1301.6 667.5L1304.6 658.8L1307.6 648.9L1310.6 637.9L1313.6 625.7L1316.6 612.2L1319.6 597.4L1322.6 581.3L1325.6 563.9L1328.6 545.3L1331.6 525.4L1334.6 504.5L1337.6 482.5L1340.6 459.6L1343.6 436L1346.6 411.9L1349.6 387.5L1352.6 363L1355.6 338.7L1358.6 314.9L1361.6 291.9L1364.6 270L1367.6 249.3L1370.6 230.4L1373.6 213.3L1376.6 198.4L1379.6 185.8L1382.6 175.8L1385.6 168.5L1388.6 164.1L1391.6 162.5L1394.6 163.9L1397.6 168.1L1400.6 175.2L1403.6 185L1406.6 197.4L1409.6 212.2L1412.6 229.2L1415.6 248L1418.6 268.5L1421.6 290.4L1424.6 313.4L1427.6 337.1L1430.6 361.4L1433.6 385.8L1436.6 410.2L1439.6 434.4L1442.6 458L1445.6 481L1448.6 503L1451.6 524.1L1454.6 544L1457.6 562.7L1460.6 580.2L1463.6 596.4L1466.6 611.2L1469.6 624.8L1472.6 637.1L1475.6 648.2L1478.6 658.1L1481.6 667L1484.6 674.8L1487.6 681.6L1490.6 687.6L1493.6 692.8L1496.6 697.2L1499.6 701L1502.6 704.3L1505.6 707L1508.6 709.4L1511.6 711.3L1514.6 712.9L1517.6 714.2L1520.6 715.3L1523.6 716.2L1526.6 716.9L1529.6 717.5L1532.6 718L1535.6 718.4L1538.6 718.7L1541.6 718.9L1544.6 719.1L1547.6 719.2L1550.6 719.3L1553.6 719.4L1556.6 719.5L1559.6 719.6L1562.6 719.6L1565.6 719.6L1568.6 719.6L1571.6 719.7L1574.6 719.7L1577.6 719.7L1580.6 719.7L1583.6 719.7L1586.6 719.7L1589.6 719.7L1592.6 719.7L1595.6 719.7L1598.6 719.7L1601.6 719.7L1604.6 719.7L1607.6 719.7L1610.6 719.7L1613.6 719.7L1616.6 719.7L1619.6 719.7L1622.6 719.7L1625.6 719.7L1628.6 719.7L1631.6 719.7L1634.6 719.7L1637.6 719.7L1640.6 719.7L1643.6 719.7L1646.6 719.7L1649.6 719.7L1652.6 719.7L1655.6 719.7L1658.6 719.7L1661.6 719.7L1664.6 719.7L1667.6 719.7L1670.6 719.7L1673.6 719.7L1676.6 719.7L1679.6 719.7L1682.6 719.7L1685.6 719.7L1688.6 719.7L1691.6 719.7L1694.6 719.7L1697.6 719.7L1700.6 719.7L1703.6 719.7L1706.6 719.7L1709.6 719.7L1712.6 719.7L1715.6 719.7L1718.6 719.7L1721.6 719.7L1724.6 719.7L1727.6 719.7L1730.6 719.7L1733.6 719.7L1736.6 719.7L1739.6 719.7L1742.6 719.7L1745.6 719.7L1748.6 719.7L1751.6 719.7L1754.6 719.7L1757.6 719.7L1760.6 719.7L1763.6 719.7L1766.6 719.7L1769.6 719.7L1772.6 719.7L1775.6 719.7L1778.6 719.7L1781.6 719.7L1784.6 719.7L1787.6 719.7L1790.6 719.7L1793.6 719.7L1796.6 719.7L1799.6 719.7L1802.6 719.7L1805.6 719.7L1808.6 719.7L1811.6 719.7L1814.6 719.7L1817.6 719.7L1820.6 719.7L1823.6 719.7L1826.6 719.7L1829.6 719.7L1832.6 719.7L1835.6 719.7L1838.6 719.7L1841.6 719.7L1844.6 719.7L1847.6 719.7L1850.6 719.7L1853.6 719.7L1856.6 719.7L1859.6 719.7L1862.6 719.7L1865.6 719.7L1868.6 719.7L1871.6 719.7L1874.6 719.7L1877.6 719.7L1880.6 719.7L1883.6 719.7L1886.6 719.7L1889.6 719.7L1892.6 719.7L1895.6 719.7L1898.6 719.7L1901.6 719.7L1904.6 719.7L1907.6 719.7L1910.6 719.7L1913.6 719.7L1916.6 719.7L1919.6 719.7L1922.6 719.7L1925.6 719.7L1928.6 719.7L1931.6 719.7L1934.6 719.7L1937.6 719.7L1940.6 719.7L1943.6 719.7L1946.6 719.7L1949.6 719.7L1952.6 719.7L1955.6 719.7L1958.6 719.7L1961.6 719.7L1964.6 719.7L1967.6 719.7L1970.6 719.7L1973.6 719.7L1976.6 719.7L1979.6 719.7L1982.6 719.7L1985.6 719.7L1988.6 719.7L1991.6 719.7L1994.6 719.7L1997.6 719.7L2000.6 719.7L2003.6 719.7L2006.6 719.7L2009.6 719.7L2012.6 719.7L2015.6 719.7L2018.6 719.7L2021.6 719.7L2024.6 719.7L2027.6 719.7L2030.6 719.7L2033.6 719.7L2036.6 719.7L2039.6 719.7L2042.6 719.7L2045.6 719.7L2048.6 719.7L2051.6 719.7L2054.6 719.7L2057.6 719.7L2060.6 719.7L2063.6 719.7L2066.6 719.7L2069.6 719.7L2072.6 719.7L2075.6 719.7L2078.6 719.7L2081.6 719.7L2084.6 719.7L2087.6 719.7L2090.6 719.7L2093.6 719.7L2096.6 719.7L2099.6 719.7L2102.6 719.7L2105.6 719.7L2108.6 719.7L2111.6 719.7L2114.6 719.7L2117.6 719.7L2120.6 719.7L2123.6 719.7L2126.6 719.7L2129.6 719.7L2132.6 719.7L2135.6 719.7L2138.6 719.7L2141.6 719.7L2144.6 719.7L2147.6 719.7L2150.6 719.7L2153.6 719.7L2156.6 719.7L2159.6 719.7L2162.6 719.7L2165.6 719.7L2168.6 719.7L2171.6 719.7L2174.6 719.7L2177.6 719.7L2180.6 719.7L2183.6 719.7L2186.6 719.7L2189.6 719.7L2192.6 719.7L2195.6 719.7L2198.6 719.7L2201.6 719.7L2204.6 719.7L2207.6 719.7L2210.6 719.7L2213.6 719.7L2216.6 719.7L2219.6 719.7L2222.6 719.7L2225.6 719.7L2228.6 719.7L2231.6 719.7L2234.6 719.7L2237.6 719.7L2240.6 719.7L2243.6 719.7L2246.6 719.7L2249.6 719.7L2252.6 719.7L2255.6 719.7L2258.6 719.7L2261.6 719.7L2264.6 719.7L2267.6 719.7L2270.6 719.7L2273.6 719.7L2276.6 719.7L2279.6 719.7L2282.6 719.7L2285.6 719.7L2288.6 719.7L2291.6 719.7L2294.6 719.7L2297.6 719.7L2300.6 719.7L2303.6 719.7L2306.6 719.7L2306.6 719.7" fill="none" stroke="#000" stroke-width="3.5" stroke-linejoin="round"/>
<path d="M212.6 1450.2L215.6 1450.2L218.6 1450.2L221.6 1450.2L224.6 1450.2L227.6 1450.2L230.6 1450.2L233.6 1450.2L236.6 1450.2L239.6 1450.2L242.6 1450.2L245.6 1450.2L248.6 1450.2L251.6 1450.2L254.6 1450.2L257.6 1450.2L260.6 1450.2L263.6 1450.2L266.6 1450.2L269.6 1450.2L272.6 1450.2L275.6 1450.2L278.6 1450.2L281.6 1450.2L284.6 1450.2L287.6 1450.2L290.6 1450.2L293.6 1450.2L296.6 1450.2L299.6 1450.2L302.6 1450.2L305.6 1450.2L308.6 1450.2L311.6 1450.2L314.6 1450.2L317.6 1450.2L320.6 1450.2L323.6 1450.2L326.6 1450.2L329.6 1450.2L332.6 1450.2L335.6 1450.2L338.6 1450.2L341.6 1450.2L344.6 1450.2L347.6 1450.2L350.6 1450.2L353.6 1450.2L356.6 1450.2L359.6 1450.2L362.6 1450.2L365.6 1450.2L368.6 1450.2L371.6 1450.2L374.6 1450.2L377.6 1450.2L380.6 1450.2L383.6 1450.2L386.6 1450.2L389.6 1450.2L392.6 1450.2L395.6 1450.2L398.6 1450.2L401.6 1450.2L404.6 1450.2L407.6 1450.2L410.6 1450.2L413.6 1450.2L416.6 1450.2L419.6 1450.2L422.6 1450.2L425.6 1450.2L428.6 1450.2L431.6 1450.2L434.6 1450.2L437.6 1450.2L440.6 1450.2L443.6 1450.2L446.6 1450.2L449.6 1450.2L452.6 1450.2L455.6 1450.2L458.6 1450.2L461.6 1450.2L464.6 1450.2L467.6 1450.2L470.6 1450.2L473.6 1450.2L476.6 1450.2L479.6 1450.2L482.6 1450.2L485.6 1450.2L488.6 1450.2L491.6 1450.2L494.6 1450.2L497.6 1450.2L500.6 1450.2L503.6 1450.2L506.6 1450.2L509.6 1450.2L512.6 1450.2L515.6 1450.2L518.6 1450.2L521.6 1450.2L524.6 1450.2L527.6 1450.2L530.6 1450.1L533.6 1450.1L536.6 1450.1L539.6 1450.1L542.6 1450.1L545.6 1450.1L548.6 1450.1L551.6 1450L554.6 1450L557.6 1450L560.6 1450L563.6 1449.9L566.6 1449.9L569.6 1449.9L572.6 1449.8L575.6 1449.8L578.6 1449.7L581.6 1449.7L584.6 1449.6L587.6 1449.5L590.6 1449.4L593.6 1449.3L596.6 1449.2L599.6 1449.1L602.6 1449L605.6 1448.9L608.6 1448.7L611.6 1448.6L614.6 1448.4L617.6 1448.2L620.6 1448L623.6 1447.7L626.6 1447.5L629.6 1447.2L632.6 1446.9L635.6 1446.5L638.6 1446.2L641.6 1445.8L644.6 1445.4L647.6 1444.9L650.6 1444.4L653.6 1443.9L656.6 1443.4L659.6 1442.8L662.6 1442.1L665.6 1441.4L668.6 1440.7L671.6 1439.9L674.6 1439.1L677.6 1438.2L680.6 1437.3L683.6 1436.3L686.6 1435.3L689.6 1434.2L692.6 1433.1L695.6 1431.9L698.6 1430.7L701.6 1429.4L704.6 1428L707.6 1426.6L710.6 1425.1L713.6 1423.6L716.6 1422L719.6 1420.4L722.6 1418.7L725.6 1417L728.6 1415.2L731.6 1413.4L734.6 1411.5L737.6 1409.6L740.6 1407.7L743.6 1405.7L746.6 1403.8L749.6 1401.7L752.6 1399.7L755.6 1397.7L758.6 1395.6L761.6 1393.6L764.6 1391.6L767.6 1389.5L770.6 1387.5L773.6 1385.5L776.6 1383.6L779.6 1381.7L782.6 1379.8L785.6 1378L788.6 1376.2L791.6 1374.5L794.6 1372.8L797.6 1371.3L800.6 1369.8L803.6 1368.4L806.6 1367L809.6 1365.8L812.6 1364.7L815.6 1363.7L818.6 1362.8L821.6 1362L824.6 1361.3L827.6 1360.8L830.6 1360.4L833.6 1360L836.6 1359.9L839.6 1359.8L842.6 1359.9L845.6 1360.1L848.6 1360.4L851.6 1360.8L854.6 1361.4L857.6 1362.1L860.6 1362.9L863.6 1363.8L866.6 1364.8L869.6 1365.9L872.6 1367.1L875.6 1368.4L878.6 1369.9L881.6 1371.4L884.6 1372.9L887.6 1374.6L890.6 1376.3L893.6 1378.1L896.6 1379.9L899.6 1381.8L902.6 1383.7L905.6 1385.7L908.6 1387.7L911.6 1389.7L914.6 1391.7L917.6 1393.7L920.6 1395.8L923.6 1397.8L926.6 1399.9L929.6 1401.9L932.6 1403.9L935.6 1405.9L938.6 1407.8L941.6 1409.8L944.6 1411.6L947.6 1413.5L950.6 1415.3L953.6 1417.1L956.6 1418.8L959.6 1420.5L962.6 1422.1L965.6 1423.7L968.6 1425.2L971.6 1426.7L974.6 1428.1L977.6 1429.4L980.6 1430.7L983.6 1432L986.6 1433.2L989.6 1434.3L992.6 1435.4L995.6 1436.4L998.6 1437.4L1001.6 1438.3L1004.6 1439.2L1007.6 1440L1010.6 1440.8L1013.6 1441.5L1016.6 1442.2L1019.6 1442.8L1022.6 1443.4L1025.6 1444L1028.6 1444.5L1031.6 1445L1034.6 1445.4L1037.6 1445.8L1040.6 1446.2L1043.6 1446.6L1046.6 1446.9L1049.6 1447.2L1052.6 1447.5L1055.6 1447.7L1058.6 1448L1061.6 1448.2L1064.6 1448.4L1067.6 1448.6L1070.6 1448.7L1073.6 1448.9L1076.6 1449L1079.6 1449.1L1082.6 1449.3L1085.6 1449.4L1088.6 1449.4L1091.6 1449.5L1094.6 1449.6L1097.6 1449.7L1100.6 1449.7L1103.6 1449.8L1106.6 1449.8L1109.6 1449.9L1112.6 1449.9L1115.6 1449.9L1118.6 1450L1121.6 1450L1124.6 1450L1127.6 1450.1L1130.6 1450.1L1133.6 1450.1L1136.6 1450.1L1139.6 1450.1L1142.6 1450.1L1145.6 1450.1L1148.6 1450.1L1151.6 1450.1L1154.6 1450.2L1157.6 1450.2L1160.6 1450.2L1163.6 1450.2L1166.6 1450.2L1169.6 1450.2L1172.6 1450.2L1175.6 1450.2L1178.6 1450.2L1181.6 1450.1L1184.6 1450.1L1187.6 1450.1L1190.6 1450.1L1193.6 1450.1L1196.6 1450L1199.6 1450L1202.6 1449.9L1205.6 1449.9L1208.6 1449.8L1211.6 1449.7L1214.6 1449.5L1217.6 1449.4L1220.6 1449.2L1223.6 1448.9L1226.6 1448.7L1229.6 1448.3L1232.6 1447.9L1235.6 1447.4L1238.6 1446.8L1241.6 1446.1L1244.6 1445.3L1247.6 1444.4L1250.6 1443.3L1253.6 1442L1256.6 1440.5L1259.6 1438.8L1262.6 1436.8L1265.6 1434.6L1268.6 1432L1271.6 1429.1L1274.6 1425.8L1277.6 1422.2L1280.6 1418.1L1283.6 1413.5L1286.6 1408.5L1289.6 1402.9L1292.6 1396.8L1295.6 1390.1L1298.6 1382.9L1301.6 1375.1L1304.6 1366.7L1307.6 1357.7L1310.6 1348.1L1313.6 1338L1316.6 1327.3L1319.6 1316.1L1322.6 1304.4L1325.6 1292.3L1328.6 1279.9L1331.6 1267.2L1334.6 1254.3L1337.6 1241.3L1340.6 1228.2L1343.6 1215.2L1346.6 1202.5L1349.6 1190L1352.6 1177.9L1355.6 1166.3L1358.6 1155.3L1361.6 1145.1L1364.6 1135.8L1367.6 1127.4L1370.6 1120L1373.6 1113.7L1376.6 1108.6L1379.6 1104.7L1382.6 1102.1L1385.6 1100.8L1388.6 1100.9L1391.6 1102.2L1394.6 1104.9L1397.6 1108.8L1400.6 1114L1403.6 1120.4L1406.6 1127.8L1409.6 1136.3L1412.6 1145.7L1415.6 1155.9L1418.6 1166.8L1421.6 1178.4L1424.6 1190.4L1427.6 1202.9L1430.6 1215.6L1433.6 1228.5L1436.6 1241.4L1439.6 1254.2L1442.6 1267L1445.6 1279.4L1448.6 1291.6L1451.6 1303.4L1454.6 1314.7L1457.6 1325.5L1460.6 1335.7L1463.6 1345.4L1466.6 1354.4L1469.6 1362.8L1472.6 1370.6L1475.6 1377.7L1478.6 1384.2L1481.6 1390.1L1484.6 1395.4L1487.6 1400.1L1490.6 1404.2L1493.6 1407.9L1496.6 1411L1499.6 1413.8L1502.6 1416.1L1505.6 1418.1L1508.6 1419.7L1511.6 1421.1L1514.6 1422.3L1517.6 1423.3L1520.6 1424.1L1523.6 1424.8L1526.6 1425.4L1529.6 1425.9L1532.6 1426.5L1535.6 1426.9L1538.6 1427.5L1541.6 1428L1544.6 1428.5L1547.6 1429.1L1550.6 1429.8L1553.6 1430.5L1556.6 1431.2L1559.6 1432L1562.6 1432.9L1565.6 1433.7L1568.6 1434.7L1571.6 1435.6L1574.6 1436.5L1577.6 1437.5L1580.6 1438.4L1583.6 1439.4L1586.6 1440.3L1589.6 1441.2L1592.6 1442L1595.6 1442.8L1598.6 1443.6L1601.6 1444.3L1604.6 1445L1607.6 1445.6L1610.6 1446.2L1613.6 1446.7L1616.6 1447.1L1619.6 1447.6L1622.6 1447.9L1625.6 1448.3L1628.6 1448.6L1631.6 1448.8L1634.6 1449L1637.6 1449.2L1640.6 1449.4L1643.6 1449.5L1646.6 1449.7L1649.6 1449.8L1652.6 1449.8L1655.6 1449.9L1658.6 1450L1661.6 1450L1664.6 1450.1L1667.6 1450.1L1670.6 1450.1L1673.6 1450.1L1676.6 1450.1L1679.6 1450.2L1682.6 1450.2L1685.6 1450.2L1688.6 1450.2L1691.6 1450.2L1694.6 1450.2L1697.6 1450.2L1700.6 1450.2L1703.6 1450.2L1706.6 1450.2L1709.6 1450.2L1712.6 1450.2L1715.6 1450.2L1718.6 1450.2L1721.6 1450.2L1724.6 1450.1L1727.6 1450.1L1730.6 1450.1L1733.6 1450L1736.6 1450L1739.6 1449.9L1742.6 1449.8L1745.6 1449.7L1748.6 1449.5L1751.6 1449.3L1754.6 1449.1L1757.6 1448.8L1760.6 1448.5L1763.6 1448L1766.6 1447.5L1769.6 1447L1772.6 1446.3L1775.6 1445.5L1778.6 1444.6L1781.6 1443.7L1784.6 1442.6L1787.6 1441.4L1790.6 1440.2L1793.6 1438.8L1796.6 1437.4L1799.6 1436L1802.6 1434.6L1805.6 1433.2L1808.6 1431.8L1811.6 1430.5L1814.6 1429.4L1817.6 1428.3L1820.6 1427.4L1823.6 1426.7L1826.6 1426.2L1829.6 1426L1832.6 1425.9L1835.6 1426.1L1838.6 1426.5L1841.6 1427.1L1844.6 1427.9L1847.6 1428.9L1850.6 1430L1853.6 1431.2L1856.6 1432.6L1859.6 1433.9L1862.6 1435.4L1865.6 1436.8L1868.6 1438.2L1871.6 1439.5L1874.6 1440.8L1877.6 1442L1880.6 1443.2L1883.6 1444.2L1886.6 1445.1L1889.6 1445.9L1892.6 1446.6L1895.6 1447.3L1898.6 1447.8L1901.6 1448.3L1904.6 1448.7L1907.6 1449L1910.6 1449.2L1913.6 1449.5L1916.6 1449.6L1919.6 1449.8L1922.6 1449.9L1925.6 1450L1928.6 1450L1931.6 1450.1L1934.6 1450.1L1937.6 1450.1L1940.6 1450.1L1943.6 1450.2L1946.6 1450.2L1949.6 1450.2L1952.6 1450.2L1955.6 1450.2L1958.6 1450.2L1961.6 1450.2L1964.6 1450.2L1967.6 1450.2L1970.6 1450.2L1973.6 1450.2L1976.6 1450.2L1979.6 1450.2L1982.6 1450.2L1985.6 1450.2L1988.6 1450.2L1991.6 1450.2L1994.6 1450.2L1997.6 1450.2L2000.6 1450.2L2003.6 1450.2L2006.6 1450.2L2009.6 1450.2L2012.6 1450.2L2015.6 1450.2L2018.6 1450.2L2021.6 1450.2L2024.6 1450.2L2027.6 1450.2L2030.6 1450.2L2033.6 1450.2L2036.6 1450.2L2039.6 1450.2L2042.6 1450.2L2045.6 1450.2L2048.6 1450.2L2051.6 1450.2L2054.6 1450.2L2057.6 1450.2L2060.6 1450.2L2063.6 1450.2L2066.6 1450.2L2069.6 1450.2L2072.6 1450.2L2075.6 1450.2L2078.6 1450.2L2081.6 1450.2L2084.6 1450.2L2087.6 1450.2L2090.6 1450.2L2093.6 1450.2L2096.6 1450.2L2099.6 1450.2L2102.6 1450.2L2105.6 1450.2L2108.6 1450.2L2111.6 1450.2L2114.6 1450.2L2117.6 1450.2L2120.6 1450.2L2123.6 1450.2L2126.6 1450.2L2129.6 1450.2L2132.6 1450.2L2135.6 1450.2L2138.6 1450.2L2141.6 1450.2L2144.6 1450.2L2147.6 1450.2L2150.6 1450.2L2153.6 1450.2L2156.6 1450.2L2159.6 1450.2L2162.6 1450.2L2165.6 1450.2L2168.6 1450.2L2171.6 1450.2L2174.6 1450.2L2177.6 1450.2L2180.6 1450.2L2183.6 1450.2L2186.6 1450.2L2189.6 1450.2L2192.6 1450.2L2195.6 1450.2L2198.6 1450.2L2201.6 1450.2L2204.6 1450.2L2207.6 1450.2L2210.6 1450.2L2213.6 1450.2L2216.6 1450.2L2219.6 1450.2L2222.6 1450.2L2225.6 1450.2L2228.6 1450.2L2231.6 1450.2L2234.6 1450.2L2237.6 1450.2L2240.6 1450.2L2243.6 1450.2L2246.6 1450.2L2249.6 1450.2L2252.6 1450.2L2255.6 1450.2L2258.6 1450.2L2261.6 1450.2L2264.6 1450.2L2267.6 1450.2L2270.6 1450.2L2273.6 1450.2L2276.6 1450.2L2279.6 1450.2L2282.6 1450.2L2285.6 1450.2L2288.6 1450.2L2291.6 1450.2L2294.6 1450.2L2297.6 1450.2L2300.6 1450.2L2303.6 1450.2L2306.6 1450.2L2306.6 1450.2" fill="none" stroke="#000" stroke-width="3.5" stroke-linejoin="round"/>
<path class="dash" d="M843.9 408.2V1509.7"/>
<path class="dash" d="M1392.9 114.3V1509.7"/>
<path class="dash" d="M1538.4 408.2V1509.7"/>
<path class="dash" d="M1830.6 408.2V1509.7"/>
<rect x="212.6" y="46.9" width="2094" height="1462.8" fill="none" stroke="#000" stroke-width="5.8"/>
<path d="M212.6 778.1H2306.6" stroke="#000" stroke-width="4.6" fill="none"/>
<path d="M308.2 1509.7V1538.5M784 1509.7V1538.5M1259.8 1509.7V1538.5M1735.5 1509.7V1538.5M2211.3 1509.7V1538.5M546.1 1509.7V1524.3M1021.9 1509.7V1524.3M1497.6 1509.7V1524.3M1973.4 1509.7V1524.3" stroke="#000" stroke-width="5" fill="none"/>
<text class="tk" x="306.7" y="1600.8">470</text>
<text class="tk" x="782.5" y="1600.8">465</text>
<text class="tk" x="1258.2" y="1600.8">460</text>
<text class="tk" x="1734" y="1600.8">455</text>
<text class="tk" x="2209.8" y="1600.8">450</text>
<text class="ax" x="935" y="1708.5">Binding energy (eV)</text>
<text class="ax" transform="translate(103.4 1009.5) rotate(-90)">Intensity (cps)</text>
<text class="b" x="238" y="123.5" style="letter-spacing:-0.2px">Without RTA</text>
<text class="b" x="2269" y="120.7" text-anchor="end">Ti 2p</text>
<text class="b" x="235.3" y="854.3">After RTA</text>
<text class="b" x="2269" y="852.5" text-anchor="end">Ti 2p</text>
<rect x="251.2" y="161.2" width="103.1" height="58.4" fill="#ff645c"/>
<text class="lg" x="391" y="209.9">Ti-O</text>
<path d="M224.8 270.1H375.8" stroke="#000" stroke-width="3" fill="none"/>
<g class="pts"><circle cx="300.2" cy="270.1" r="8.5"/></g>
<text class="lg" x="393.3" y="292">Peak sum</text>
<rect x="253" y="896.4" width="102.1" height="57.1" fill="#ff645c"/>
<text class="lg" x="390" y="945.2">Ti-O</text>
<rect x="251.3" y="979.2" width="103.3" height="57.7" fill="#9fd077"/>
<text class="lg" x="390" y="1026.2">Ti-N-O</text>
<rect x="251.3" y="1060.6" width="101.3" height="57.7" fill="#6cabff"/>
<text class="lg" x="390" y="1108.4">Ti-N</text>
<path d="M223.5 1168.3H374.4" stroke="#000" stroke-width="3" fill="none"/>
<g class="pts"><circle cx="298.8" cy="1168.3" r="8.5"/></g>
<text class="lg" x="391.3" y="1190.4">Peak sum</text>
<text class="an" x="809" y="375.3">464.3 eV</text>
<text class="an" x="863" y="448.5">Ti-O</text>
<text class="an" x="1412.5" y="118.8">458.5 eV</text>
<text class="an" x="1461" y="186.8">Ti-O</text>
<text class="an" x="1523.5" y="365.1">457.1 eV</text>
<text class="an" x="1550.5" y="434.3">Ti-N-O</text>
<text class="an" x="1830.5" y="371.7" style="letter-spacing:-0.35px">454 eV</text>
<text class="an" x="1864.5" y="436.8">Ti-N</text>
</svg>
</body>
</html>
